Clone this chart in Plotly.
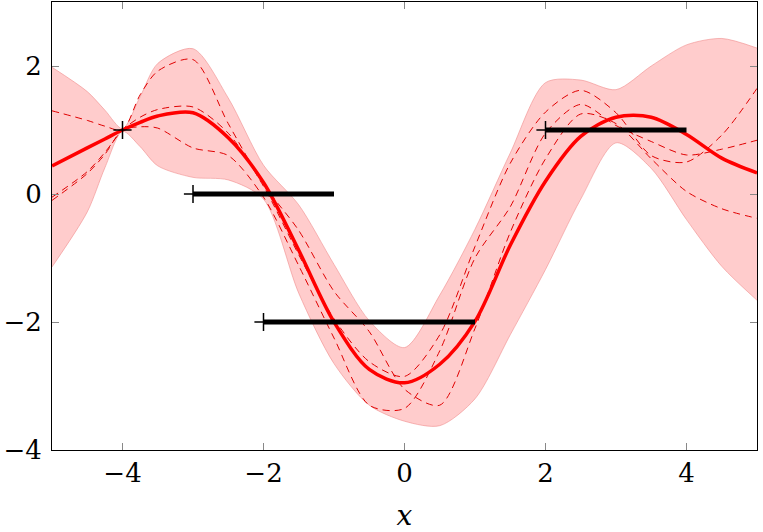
import plotly.graph_objects as go

# Grid of x positions where curves were read
x = [-5, -4.5, -4.25, -4, -3.75, -3.5, -3, -2.5, -2, -1.5, -1, -0.5, 0, 0.5, 1, 1.5, 2, 2.5, 3, 3.5, 4, 4.5, 5]

mean = [0.44, 0.72, 0.86, 1.0, 1.12, 1.22, 1.27, 0.88, 0.18, -0.88, -2.0, -2.74, -2.95, -2.66, -1.99, -0.8, 0.2, 0.9, 1.2, 1.2, 0.93, 0.56, 0.33]
upper = [1.98, 1.6, 1.31, 1.02, 1.52, 2.04, 2.27, 1.5, 0.45, -0.17, -1.1, -1.98, -2.4, -1.58, -0.55, 0.64, 1.74, 1.78, 1.63, 2.0, 2.33, 2.43, 2.28]
lower = [-1.14, -0.28, 0.41, 0.98, 0.74, 0.44, 0.26, 0.22, -0.08, -1.55, -2.65, -3.3, -3.55, -3.62, -3.2, -2.2, -1.18, -0.08, 0.8, 0.4, -0.4, -1.13, -1.66]

sample_a = [-0.05, 0.35, 0.65, 1.0, 1.2, 1.32, 1.36, 0.95, 0.12, -0.95, -1.95, -2.62, -2.85, -2.2, -0.82, 0.48, 1.28, 1.62, 1.27, 0.6, 0.5, 0.92, 1.65]
sample_b = [-0.1, 0.32, 0.62, 1.0, 1.05, 1.03, 0.72, 0.6, -0.05, -1.12, -2.25, -3.3, -3.35, -2.45, -1.0, -0.2, 0.95, 1.4, 1.07, 0.82, 0.61, 0.7, 0.84]
sample_c = [1.3, 1.15, 1.06, 1.0, 1.55, 1.92, 2.1, 1.1, 0.15, -0.57, -1.52, -2.15, -3.05, -3.3, -2.1, -0.6, 0.55, 1.25, 1.1, 0.55, 0.04, -0.23, -0.38]

# Interval observations (bars) and observation markers
bar_start = [-3, -2, 2]
bar_end = [-1, 1, 4]
bar_value = [0, -2, 1]
obs_x = [-4, -3, -2, 2]
obs_y = [1, 0, -2, 1]

x_ticks = [-4, -2, 0, 2, 4]
y_ticks = [-4, -2, 0, 2]

FONT = "DejaVu Serif"

fig = go.Figure()

band_line = dict(color="rgba(240,140,140,0.6)", width=1, shape="spline", smoothing=0.8)
fig.add_trace(go.Scatter(x=x, y=upper, mode="lines", line=band_line, hoverinfo="skip", showlegend=False))
fig.add_trace(go.Scatter(x=x, y=lower, mode="lines", line=band_line, fill="tonexty",
                         fillcolor="rgba(255,0,0,0.2)", hoverinfo="skip", showlegend=False))

for s in (sample_a, sample_b, sample_c):
    fig.add_trace(go.Scatter(x=x, y=s, mode="lines",
                             line=dict(color="#e00000", width=1, dash="7px,5px", shape="spline", smoothing=0.8),
                             hoverinfo="skip", showlegend=False))

fig.add_trace(go.Scatter(x=x, y=mean, mode="lines",
                         line=dict(color="#ff0000", width=3.5, shape="spline", smoothing=0.9),
                         hoverinfo="skip", showlegend=False))

for xs, xe, v in zip(bar_start, bar_end, bar_value):
    fig.add_trace(go.Scatter(x=[xs, xe], y=[v, v], mode="lines",
                             line=dict(color="black", width=5), hoverinfo="skip", showlegend=False))

fig.add_trace(go.Scatter(x=obs_x, y=obs_y, mode="markers",
                         marker=dict(symbol="cross-thin", size=13, line=dict(color="black", width=1.5)),
                         hoverinfo="skip", showlegend=False))

axis_common = dict(showgrid=False, zeroline=False, showline=True, linecolor="black", linewidth=1,
                   mirror="ticks", ticks="inside", ticklen=7, tickcolor="#888888", tickwidth=1,
                   automargin=False,
                   tickfont=dict(family=FONT, size=26, color="black"))

fig.update_xaxes(range=[-5, 5], tickvals=x_ticks, **axis_common,
                 title=dict(text="<i>x</i>", font=dict(family=FONT, size=28, color="black"), standoff=20))
fig.update_yaxes(range=[-4, 3], tickvals=y_ticks, ticklabelstandoff=4, **axis_common)

fig.update_layout(width=763, height=532, margin=dict(l=52, r=6, t=2, b=82),
                  plot_bgcolor="white", paper_bgcolor="white",
                  font=dict(family=FONT))

fig.write_html("out.html", config={"displayModeBar": False},
               post_script="document.body.style.margin='0';document.body.style.overflow='hidden';")
